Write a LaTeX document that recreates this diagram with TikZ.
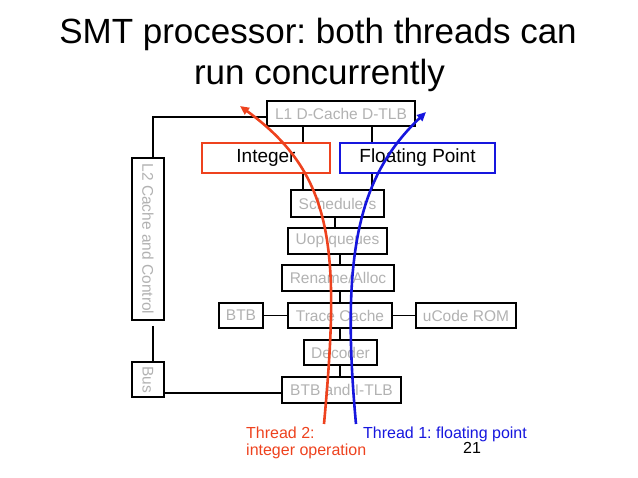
\documentclass[tikz,border=0pt]{standalone}
\usepackage{fontspec}
\usepackage{graphicx}
\setmainfont{Liberation Sans}
\usetikzlibrary{arrows.meta}
\definecolor{thrred}{RGB}{238,66,30}
\definecolor{thrblue}{RGB}{22,22,222}
\definecolor{boxgray}{RGB}{178,178,178}
\pgfdeclarelayer{bg}
\pgfsetlayers{bg,main}
\frenchspacing
\begin{document}
\begin{tikzpicture}[x=1pt,y=-1pt,
  blk/.style={draw=black,line width=1.8pt,fill=white,inner sep=0pt,text=boxgray,font=\fontsize{15.5}{18}\selectfont},
  unit/.style={fill=white,line width=1.8pt,inner sep=0pt,font=\fontsize{19}{22}\selectfont,text=black},
  wire/.style={line width=1.8pt,draw=black},
  thread/.style={line width=2.6pt,-{Triangle[length=9pt,width=8pt]}},
  lbl/.style={inner sep=0pt,anchor=base west,font=\fontsize{16}{19}\selectfont}]
\useasboundingbox (0,0) rectangle (638,478);

% title
\node[anchor=base,inner sep=0pt,font=\fontsize{35}{40}\selectfont] (ti1) at (318,43.5) {SMT processor: both threads can};
\node[anchor=base,inner sep=0pt,font=\fontsize{35}{40}\selectfont] (ti2) at (319.5,85) {run concurrently};

% boxes
\node[blk,minimum width=148pt,minimum height=25pt] (l1) at (341,113.5) {L1 D-Cache D-TLB};
\node[unit,draw=thrred,minimum width=128pt,minimum height=30pt] (int) at (266,158) {Integer};
\node[unit,draw=thrblue,minimum width=155pt,minimum height=30pt] (fp) at (417.5,158) {Floating Point};
\node[blk,minimum width=93pt,minimum height=27pt] (sch) at (337.5,203.5) {Schedulers};
\node[blk,minimum width=99pt,minimum height=26pt] (uop) at (337.5,241) {Uop queues};
\node[blk,minimum width=112pt,minimum height=26pt] (ren) at (338,278) {Rename/Alloc};
\node[blk,minimum width=104pt,minimum height=25pt] (tc) at (340,315.5) {Trace Cache};
\node[blk,minimum width=44pt,minimum height=25pt] (btb) at (241,315.5) {BTB};
\node[blk,minimum width=100pt,minimum height=25pt] (uc) at (466,315.5) {uCode ROM};
\node[blk,minimum width=73pt,minimum height=25pt] (dec) at (340.5,352.5) {Decoder};
\node[blk,minimum width=119pt,minimum height=26pt] (itlb) at (341.5,390) {BTB and I-TLB};
\node[blk,minimum width=32pt,minimum height=162pt] (l2) at (148,239) {\rotatebox{-90}{L2 Cache and Control}};
\node[blk,minimum width=32pt,minimum height=35pt] (bus) at (148,379.5) {\rotatebox{-90}{Bus}};

% wires
\coordinate (xa) at (303,0);
\coordinate (xb) at (372,0);
\coordinate (xc) at (335,0);
\coordinate (xd) at (340,0);
\coordinate (xe) at (153,0);
\coordinate (ya) at (0,117);
\coordinate (yb) at (0,393);
\coordinate (yc) at (0,326);
\begin{pgfonlayer}{bg}
\draw[wire] (l1.west |- ya) -| (l2.north -| xe);
\draw[wire] (l1.south -| xa) -- (sch.north -| xa);
\draw[wire] (l1.south -| xb) -- (sch.north -| xb);
\draw[wire] (sch.south -| xc) -- (uop.north -| xc);
\draw[wire] (uop.south -| xd) -- (ren.north -| xd);
\draw[wire] (ren.south -| xd) -- (tc.north -| xd);
\draw[wire] (tc.south -| xd) -- (dec.north -| xd);
\draw[wire] (dec.south -| xd) -- (itlb.north -| xd);
\draw[wire] (btb) -- (tc);
\draw[wire] (tc) -- (uc);
\draw[wire] (xe |- yc) -- (bus.north -| xe);
\draw[wire] (bus.east |- yb) -- (itlb.west |- yb);
\end{pgfonlayer}

% threads
\coordinate (r0) at (324,424);
\coordinate (r3) at (240,106);
\coordinate (b0) at (356,424);
\coordinate (b3) at (426,112);
\draw[thread,thrred] (r0) .. controls (340,250) and (335,175) .. (r3);
\draw[thread,thrblue] (b0) .. controls (340,250) and (360,175) .. (b3);

% labels
\node[lbl,text=thrred] (t2a) at (246,439) {Thread 2:};
\node[lbl,text=thrred] (t2b) at (246,456) {integer operation};
\node[lbl,text=thrblue] (t1) at (363,439) {Thread 1: floating point};
\node[lbl] (pg) at (463,454) {21};
\end{tikzpicture}
\end{document}
